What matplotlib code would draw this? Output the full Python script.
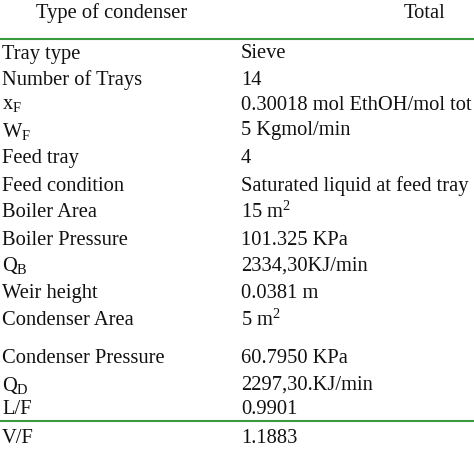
import matplotlib
matplotlib.use("Agg")
import matplotlib.pyplot as plt

plt.rcParams['font.family'] = ['Liberation Serif', 'DejaVu Serif']
plt.rcParams['mathtext.fontset'] = 'custom'
plt.rcParams['mathtext.rm'] = 'Liberation Serif'
plt.rcParams['mathtext.it'] = 'Liberation Serif'

header = ["Type of condenser", "Total"]
params = ["Tray type", "Number of Trays", r"x$_\mathregular{F}$", r"W$_\mathregular{F}$",
          "Feed tray", "Feed condition", "Boiler Area", "Boiler Pressure",
          r"Q$_\mathregular{B}$", "Weir height", "Condenser Area", "Condenser Pressure",
          r"Q$_\mathregular{D}$", "L/F", "V/F"]
values = ["Sieve", "14", "0.30018 mol EthOH/mol tot", "5 Kgmol/min", "4",
          "Saturated liquid at feed tray", r"15 m$^\mathregular{2}$", "101.325 KPa",
          "2334,30KJ/min", "0.0381 m", r"5 m$^\mathregular{2}$", "60.7950 KPa",
          "2297,30.KJ/min", "0.9901", "1.1883"]
row_y = [54, 80, 105, 131, 158, 186, 212, 240, 266, 293, 320, 358, 385, 409, 438]

W, H = 474, 465
fig = plt.figure(figsize=(W/100, H/100), dpi=100)
fs = 14.8
def t(x, y, s, **kw):
    fig.text(x/W, 1 - y/H, s, fontsize=fs, va='center', ha='left', color='#111111', **kw)

t(36, 13, header[0])
t(404, 13, header[1])
for y, p, v in zip(row_y, params, values):
    t(2, y, p)
    t(241, y, v)
for ly in [39, 421]:
    fig.add_artist(plt.Line2D([0, 1], [1 - ly/H]*2, color='#3a9a3a', lw=1.5))
fig.savefig("out.png", dpi=100)
